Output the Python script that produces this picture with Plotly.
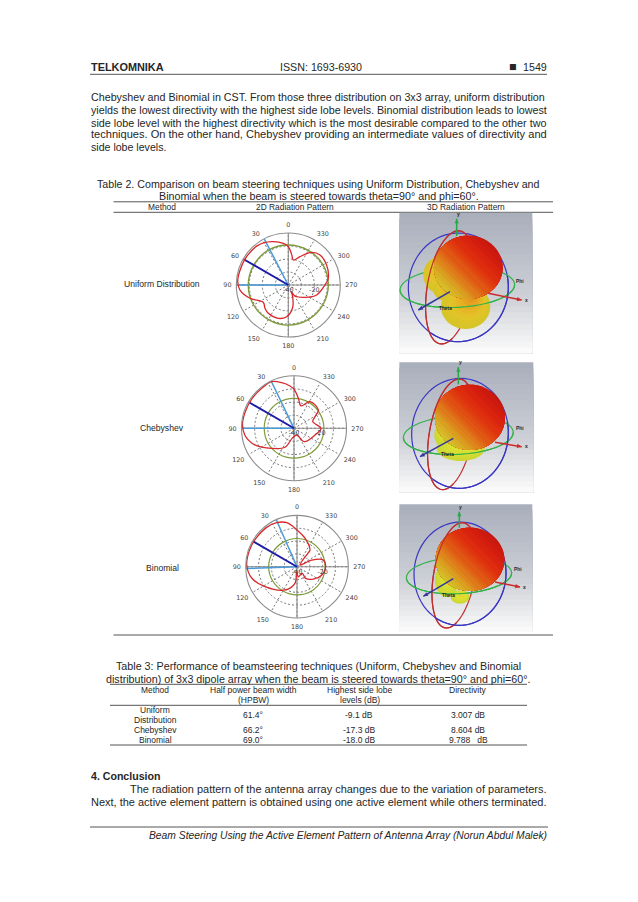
import math
import plotly.graph_objects as go

W, H = 638, 902

# ---------- data (theta in deg, r in dB, centre -40, rim 0) ----------
angle_ticks = [0, 30, 60, 90, 120, 150, 180, 210, 240, 270, 300, 330]
radial_ticks = [-40, -30, -20, -10, 0]
radial_labels = ["-40", "", "-20", "", ""]

uniform_theta = [0, 6.8, 21, 36.9, 55.8, 72.8, 86, 96, 109, 125, 135, 144.8, 163, 177, 190, 201.8, 201.8,
                 211, 233.5, 250.6, 270, 279.5, 297.5, 313.5, 324.5, 337.6, 348.7, 353.8, 360]
uniform_r = [-10.5, -7.7, -4.3, -1.6, -1.2, -1.2, -1.0, -2.6, -8.8, -16.6, -14.6, -13.3, -13.2, -15.6, -21.8,
             -31.7, -34.5, -30.1, -24, -16.9, -11.8, -8.8, -6.8, -6.4, -9.2, -16.4, -20.4, -16.3, -10.5]
chebyshev_theta = [0, 5.4, 15, 25.6, 38, 55, 70, 85, 98, 113, 132, 154.7, 170, 201.8, 217.8, 252.4, 270,
                   289.7, 299, 307, 329, 342.6, 351.8, 360]
chebyshev_r = [-10.2, -7.6, -4, -0.6, -0.8, -0.8, -0.8, -0.6, -2.2, -7.6, -17.1, -24, -32.4, -34.5, -27.1,
               -23.2, -19.4, -24.8, -21.6, -16.8, -16.2, -22.1, -16.8, -10.2]
binomial_theta = [0, 13, 24.8, 38.7, 57, 71.7, 88, 104, 122, 152.8, 173, 176, 187.6, 218.7, 216.6, 233, 251,
                  270, 284, 294, 299, 321, 322, 344, 360]
binomial_r = [-11.4, -4.8, -2.2, -1.2, -1, -0.8, -0.8, -3.6, -10.6, -19.6, -26.9, -36, -32.1, -33.4, -28.7,
              -24, -19.7, -17.7, -18.8, -27.4, -37.3, -26.8, -23.6, -17, -11.4]
ring_theta = [0, 30, 60, 90, 120, 150, 180, 210, 240, 270, 300, 330, 360]
rim_r = [0, 0, 0, 0, 0, 0, 0, 0, 0, 0, 0, 0, 0]
uniform_ring = [-9.2, -9.1, -9.3, -9.2, -9.2, -9.3, -9.1, -9.2, -9.3, -9.2, -9.1, -9.2, -9.2]
chebyshev_ring = [-17.2, -17.1, -17.2, -17.3, -17.2, -17.2, -17.3, -17.2, -17.1, -17.2, -17.3, -17.2, -17.2]
binomial_ring = [-18.0, -18.1, -18.0, -17.9, -18.0, -18.1, -18.0, -17.9, -18.0, -18.1, -18.0, -18.0, -18.0]
uniform_beam = [60, 27.6, 90]
chebyshev_beam = [60, 25.8, 90]
binomial_beam = [60, 23.8, 92]

polar_names = ["polar", "polar2", "polar3"]
polar_centres = [(288.3, 285.0, 52.0), (294.0, 428.3, 52.5), (297.0, 566.7, 51.3)]
polar_series = [(uniform_theta, uniform_r, uniform_ring, uniform_beam),
                (chebyshev_theta, chebyshev_r, chebyshev_ring, chebyshev_beam),
                (binomial_theta, binomial_r, binomial_ring, binomial_beam)]

# ---------- text ----------
body_lines = [
    "Chebyshev and Binomial in CST. From those three distribution on 3x3 array, uniform distribution",
    "yields the lowest directivity with the highest side lobe levels. Binomial distribution leads to lowest",
    "side lobe level with the highest directivity which is the most desirable compared to the other two",
    "techniques. On the other hand, Chebyshev providing an intermediate values of directivity and",
]
table3_methods = ["Chebyshev", "Binomial"]
table3_hpbw = ["61.4°", "66.2°", "69.0°"]
table3_sll = ["-9.1 dB", "-17.3 dB", "-18.0 dB"]
table3_dir = ["3.007 dB", "8.604 dB", "9.788   dB"]

ARIAL = {" ": 278, ",": 278, ".": 278, ":": 278, "-": 333, "(": 333, ")": 333, "=": 584, "°": 400,
         "A": 667, "B": 667, "C": 722, "D": 722, "E": 667, "F": 611, "G": 778, "H": 722, "I": 278, "J": 500,
         "K": 667, "L": 556, "M": 833, "N": 722, "O": 778, "P": 667, "Q": 778, "R": 722, "S": 667, "T": 611,
         "U": 722, "V": 667, "W": 944, "X": 667, "Y": 667, "Z": 611, "a": 556, "b": 556, "c": 500, "d": 556,
         "e": 556, "f": 278, "g": 556, "h": 556, "i": 222, "j": 222, "k": 500, "l": 222, "m": 833, "n": 556,
         "o": 556, "p": 556, "q": 556, "r": 333, "s": 500, "t": 278, "u": 556, "v": 500, "w": 722, "x": 500,
         "y": 500, "z": 500}


def fit_size(text, x0, x1):
    units = sum(ARIAL.get(c, 556) for c in text)
    return (x1 - x0) * 1000.0 / units


def px(x):
    return x / W


def py(y):
    return 1 - y / H


annotations = []
shapes = []
FONT = "Liberation Sans"
INK = "#262626"


def label(text, x, y, size=10.7, anchor="center", bold=False, italic=False, color=INK):
    t = text
    if bold:
        t = "<b>" + t + "</b>"
    if italic:
        t = "<i>" + t + "</i>"
    annotations.append(dict(text=t, x=px(x), y=py(y), xref="paper", yref="paper", xanchor=anchor, yanchor="middle",
                            showarrow=False, borderpad=0, borderwidth=0,
                            font=dict(family=FONT, size=size, color=color)))


def fitted(text, x0, x1, y, italic=False):
    label(text, x0, y, size=fit_size(text, x0, x1), anchor="left", italic=italic)


def rule(x0, x1, y, width=1.0, color="#555555"):
    shapes.append(dict(type="line", xref="paper", yref="paper", x0=px(x0), x1=px(x1), y0=py(y), y1=py(y),
                       line=dict(color=color, width=width)))


# header
label("TELKOMNIKA", 91, 67, anchor="left", bold=True, size=10.9)
label("ISSN: 1693-6930", 321, 67, size=10.7)
label("■", 513, 67, size=12.5)
label("1549", 547, 67, anchor="right", size=10.7)
rule(90, 547, 74.3)

for i, line in enumerate(body_lines):
    fitted(line, 91, 547, [97, 109.7, 122.6, 134.4][i])
label("side lobe levels.", 91, 147, anchor="left", size=10.6)

# Table 2
fitted("Table 2. Comparison on beam steering techniques using Uniform Distribution, Chebyshev and", 97, 541.5, 184)
fitted("Binomial when the beam is steered towards theta=90° and phi=60°.", 159, 479, 196)
rule(113.5, 553, 201.8)
rule(113.5, 553, 212.3)
label("Method", 162, 207.3, size=8.4)
label("2D Radiation Pattern", 295, 207.3, size=8.4)
label("3D Radiation Pattern", 466, 207.3, size=8.4)
label("Uniform Distribution", 162, 284, size=8.6)
label("Chebyshev", 162, 428, size=8.6)
label("Binomial", 162, 568, size=8.6)
rule(113.5, 553, 635)

# Table 3
fitted("Table 3: Performance of beamsteering techniques (Uniform, Chebyshev and Binomial", 116, 523, 666)
fitted("distribution) of 3x3 dipole array when the beam is steered towards theta=90° and phi=60°.", 106, 531, 679)
rule(110, 527, 684.3)
label("Method", 155, 690, size=8.4)
label("Half power beam width", 253, 690, size=8.5)
label("(HPBW)", 253, 700, size=8.5)
label("Highest side lobe", 360, 690, size=8.5)
label("levels (dB)", 360, 700, size=8.5)
label("Directivity", 468, 690, size=8.5)
rule(110, 527, 705.3)
label("Uniform", 155, 710, size=8.5)
label("Distribution", 155, 720, size=8.5)
for y, m in zip([730, 739.8], table3_methods):
    label(m, 155, y, size=8.5)
for y, a, b, c in zip([715, 730, 739.8], table3_hpbw, table3_sll, table3_dir):
    label(a, 253, y, size=8.5)
    label(b, 358.5, y, size=8.5)
    label(c, 468, y, size=8.5)
rule(110, 527, 745)

# Conclusion and footer
label("4. Conclusion", 91, 776, anchor="left", bold=True, size=10.6)
fitted("The radiation pattern of the antenna array changes due to the variation of parameters.", 130, 547, 789)
fitted("Next, the active element pattern is obtained using one active element while others terminated.", 91, 547, 801.7)
rule(90, 548, 827)
label("Beam Steering Using the Active Element Pattern of Antenna Array (Norun Abdul Malek)", 547, 835.5,
      anchor="right", italic=True, size=10.3)


# ---------- 3D pattern pictures (schematic, zoom-pixel parameters per panel) ----------
def ring_points(cx, cy, rx, ry, tilt, t0=0, t1=360, n=70):
    a = math.radians(tilt)
    pts = []
    for i in range(n + 1):
        t = math.radians(t0 + (t1 - t0) * i / n)
        x = cx + rx * math.cos(t) * math.cos(a) - ry * math.sin(t) * math.sin(a)
        y = cy + rx * math.cos(t) * math.sin(a) + ry * math.sin(t) * math.cos(a)
        pts.append((x, y))
    return pts


def path_of(points, org, close=False):
    ox, oy = org
    coords = [(px(ox + x / 3), py(oy + y / 3)) for x, y in points]
    s = "M" + " L".join(f"{x:.5f},{y:.5f}" for x, y in coords)
    return s + (" Z" if close else "")


def ring(org, cx, cy, rx, ry, tilt, color, t0=0, t1=360, width=1.2):
    shapes.append(dict(type="path", xref="paper", yref="paper", path=path_of(ring_points(cx, cy, rx, ry, tilt, t0, t1), org),
                       line=dict(color=color, width=width)))


def mix(c0, c1, t):
    return "rgb(" + ",".join(str(round(a + (b - a) * t)) for a, b in zip(c0, c1)) + ")"


def ramp(stops, t):
    seg = min(int(t * (len(stops) - 1)), len(stops) - 2)
    return mix(stops[seg], stops[seg + 1], t * (len(stops) - 1) - seg)


def soft_lobe(org, cx, cy, rx, ry, stops, direction=(0.3, -0.5), layers=8):
    for i in range(layers):
        t = i / (layers - 1)
        scale = 1 - 0.8 * t
        ccx = cx + direction[0] * (1 - scale) * rx
        ccy = cy + direction[1] * (1 - scale) * ry
        shapes.append(dict(type="path", xref="paper", yref="paper",
                           path=path_of(ring_points(ccx, ccy, rx * scale, ry * scale, 0, n=48), org, True),
                           fillcolor=ramp(stops, t), line=dict(width=0)))


def main_lobe(org, cx, cy, rx, ry, stops, layers=22):
    # diagonal colour run: red at upper right, yellow at lower left
    ux, uy = -0.707, 0.707
    outline = ring_points(cx, cy, rx, ry, 0, n=80)[:-1]
    reach = math.hypot(rx * ux, ry * uy)
    for i in range(layers):
        t = i / (layers - 1)
        d = -reach * 1.01 + 2.0 * reach * t
        pts = [(x, y) for x, y in outline if (x - cx) * ux + (y - cy) * uy >= d]
        if len(pts) > 2:
            shapes.append(dict(type="path", xref="paper", yref="paper", path=path_of(pts, org, True),
                               fillcolor=ramp(stops, t), line=dict(width=0)))


def arrow(org, x0, y0, x1, y1, color, width=1.5, head=14):
    shapes.append(dict(type="path", xref="paper", yref="paper", path=path_of([(x0, y0), (x1, y1)], org),
                       line=dict(color=color, width=width)))
    d = math.hypot(x1 - x0, y1 - y0)
    ux, uy = (x1 - x0) / d, (y1 - y0) / d
    tri = [(x1, y1), (x1 - head * ux - 0.45 * head * uy, y1 - head * uy + 0.45 * head * ux),
           (x1 - head * ux + 0.45 * head * uy, y1 - head * uy - 0.45 * head * ux)]
    shapes.append(dict(type="path", xref="paper", yref="paper", path=path_of(tri, org, True),
                       fillcolor=color, line=dict(width=0)))


MAIN = [(200, 24, 14), (214, 30, 14), (222, 44, 14), (224, 66, 16), (224, 98, 22), (222, 134, 28), (216, 172, 36), (212, 200, 44)]
YEL = [(214, 196, 40), (226, 196, 40), (232, 178, 36), (228, 150, 30)]
LIME = [(205, 215, 50), (220, 225, 50), (225, 215, 45)]
BLUE, RED, GREEN = "#3a36c4", "#bf2f30", "#34b24a"

panels = [
    dict(org=(395, 210), box=(13, 8, 412, 430),
         blue=(190, 232, 150, 163, 3), red=(165, 232, 68, 172, 10), green=(187, 232, 172, 60, -3),
         main=(220, 172, 103, 95), small=[(135, 195, 50, 55, YEL), (160, 240, 45, 35, YEL), (212, 290, 74, 67, YEL)],
         y=(185, 78, 185, 26), x=(280, 250, 380, 270), b=(165, 245, 70, 300),
         ylab=(190, 12), xlab=(393, 270), theta=(152, 297), phi=(372, 215)),
    dict(org=(395, 355), box=(13, 22, 415, 412),
         blue=(195, 235, 145, 165, 3), red=(168, 238, 65, 168, 10), green=(190, 240, 165, 58, -3),
         main=(225, 187, 105, 98), small=[(160, 240, 42, 45, LIME), (197, 280, 72, 38, LIME)],
         y=(190, 88, 190, 36), x=(300, 262, 380, 275), b=(175, 250, 75, 305),
         ylab=(195, 22), xlab=(395, 273), theta=(158, 300), phi=(373, 220)),
    dict(org=(395, 497), box=(13, 22, 412, 405),
         blue=(195, 230, 138, 155, 3), red=(178, 235, 62, 160, 10), green=(192, 235, 158, 55, -3),
         main=(225, 187, 103, 95), small=[(155, 250, 35, 50, LIME), (195, 300, 28, 20, LIME)],
         y=(193, 92, 193, 44), x=(300, 255, 375, 270), b=(175, 245, 85, 298),
         ylab=(197, 30), xlab=(387, 270), theta=(160, 295), phi=(367, 218)),
]

for p in panels:
    org = p["org"]
    bx0, by0, bx1, by1 = p["box"]
    strips = 24
    for i in range(strips):
        t = i / (strips - 1)
        c = mix((170, 175, 188), (205, 208, 214), t / 0.6) if t < 0.6 else mix((205, 208, 214), (250, 250, 250), (t - 0.6) / 0.4)
        y0 = by0 + (by1 - by0) * i / strips
        # every strip runs down to the panel bottom so no seams show between strips
        shapes.append(dict(type="path", xref="paper", yref="paper",
                           path=path_of([(bx0, y0), (bx1, y0), (bx1, by1), (bx0, by1)], org, True),
                           fillcolor=c, line=dict(width=0)))
    ring(org, *p["blue"], BLUE)
    ring(org, *p["red"], RED)
    ring(org, *p["green"], GREEN)
    for cx, cy, rx, ry, stops in p["small"]:
        soft_lobe(org, cx, cy, rx, ry, stops)
    main_lobe(org, *p["main"], MAIN)
    ring(org, *p["green"], GREEN, t0=0, t1=180)
    ring(org, *p["red"], RED, t0=60, t1=290)
    ring(org, *p["blue"], BLUE, t0=-15, t1=120)
    arrow(org, *p["y"], "#25a848")
    arrow(org, *p["x"], "#cc2a2a")
    arrow(org, *p["b"], "#33379c")
    ox, oy = org
    label("y", ox + p["ylab"][0] / 3, oy + p["ylab"][1] / 3, size=5, bold=True)
    label("x", ox + p["xlab"][0] / 3, oy + p["xlab"][1] / 3, size=5, bold=True)
    label("Theta", ox + p["theta"][0] / 3, oy + p["theta"][1] / 3, size=4.8, bold=True)
    label("Phi", ox + p["phi"][0] / 3, oy + p["phi"][1] / 3, size=4.8, bold=True)

# ---------- polar charts ----------
fig = go.Figure()
layout_polars = {}
for name, (cx, cy, R), (th, r, ring_r, beam) in zip(polar_names, polar_centres, polar_series):
    for a in (0, 90, 180, 270):
        fig.add_trace(go.Scatterpolar(theta=[a, a], r=[-40, 0], mode="lines", subplot=name,
                                      line=dict(color="#8c8c8c", width=1.1), hoverinfo="skip"))
    fig.add_trace(go.Scatterpolar(theta=ring_theta, r=ring_r, mode="lines", subplot=name,
                                  line=dict(color="#7f9c3c", width=1.4 if name == "polar" else 1.2, shape="spline", smoothing=1.0),
                                  hoverinfo="skip"))
    fig.add_trace(go.Scatterpolar(theta=[beam[1], beam[1]], r=[-40, 0], mode="lines", subplot=name,
                                  line=dict(color="#4a9bd8", width=1.5), hoverinfo="skip"))
    fig.add_trace(go.Scatterpolar(theta=[beam[2], beam[2]], r=[-40, 0], mode="lines", subplot=name,
                                  line=dict(color="#4a9bd8", width=1.5), hoverinfo="skip"))
    fig.add_trace(go.Scatterpolar(theta=[beam[0], beam[0]], r=[-40, 0], mode="lines", subplot=name,
                                  line=dict(color="#1c1ca8", width=1.9), hoverinfo="skip"))
    fig.add_trace(go.Scatterpolar(theta=th, r=r, mode="lines", subplot=name,
                                  line=dict(color="#d8282c", width=1.3, shape="spline", smoothing=1.0), hoverinfo="skip"))
    layout_polars[name] = dict(
        domain=dict(x=[px(cx - R), px(cx + R)], y=[py(cy + R), py(cy - R)]),
        bgcolor="white",
        angularaxis=dict(rotation=90, direction="counterclockwise", tickmode="array", tickvals=angle_ticks,
                         ticktext=[str(v) for v in angle_ticks], ticks="outside", ticklen=3, tickcolor="rgba(0,0,0,0)",
                         showline=True, linecolor="#8c8c8c", linewidth=1.1,
                         gridcolor="#777777", griddash="2px,2px", gridwidth=0.8,
                         tickfont=dict(family="DejaVu Sans", size=6.4, color="#444444")),
        radialaxis=dict(range=[-40, 0], tickmode="array", tickvals=radial_ticks, ticktext=radial_labels, angle=0,
                        side="clockwise", ticks="", showline=False, gridcolor="#777777", griddash="2px,2px", gridwidth=0.8,
                        tickangle=0, tickfont=dict(family="DejaVu Sans", size=6.4, color="#444444")),
    )

fig.update_layout(width=W, height=H, autosize=False, margin=dict(l=0, r=0, t=0, b=0), showlegend=False,
                  paper_bgcolor="white", plot_bgcolor="white", annotations=annotations, shapes=shapes, **layout_polars)
fig.write_html("out.html", config=dict(displayModeBar=False), post_script="document.body.style.margin='0';")
